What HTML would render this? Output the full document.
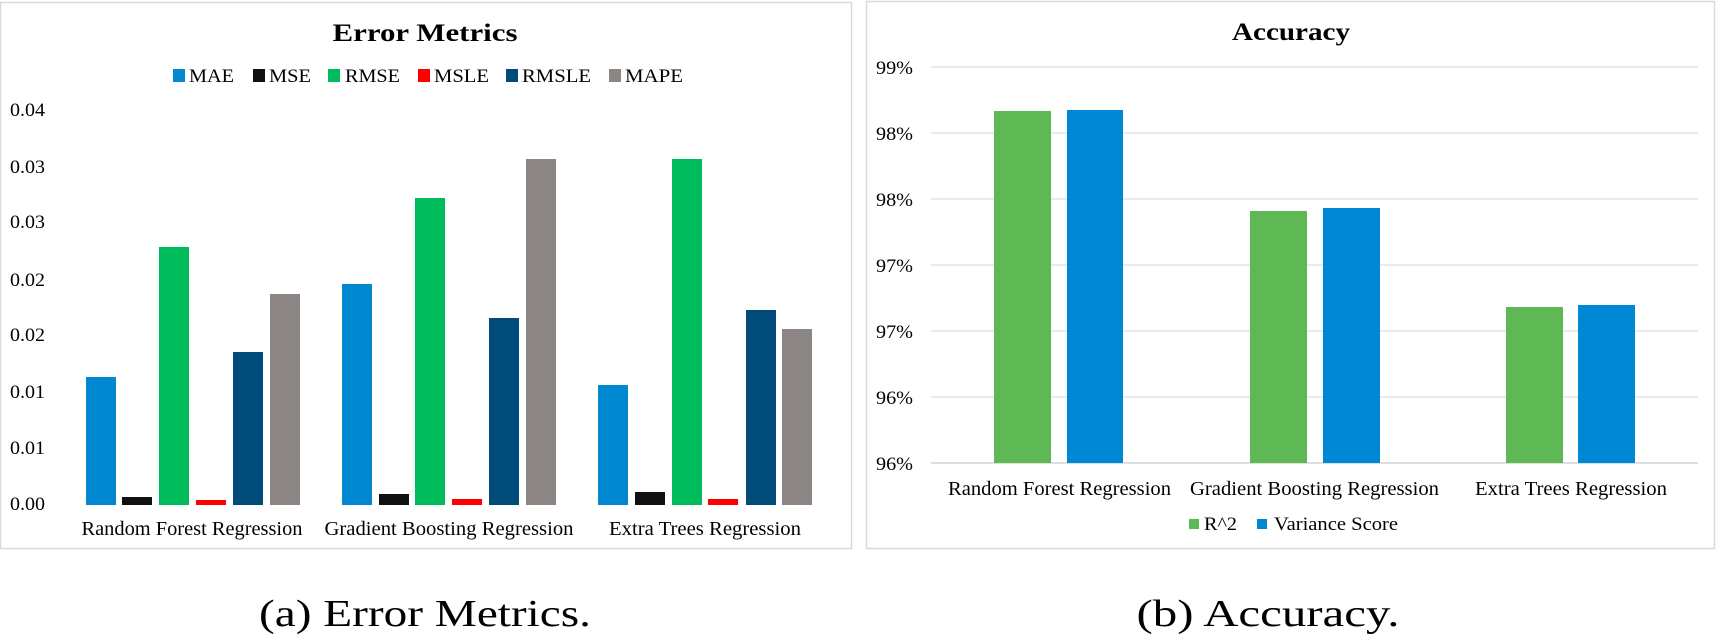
<!DOCTYPE html>
<html><head><meta charset="utf-8"><style>
html,body{margin:0;padding:0;background:#fff;}
svg{display:block;}
text{font-family:"Liberation Serif",serif;fill:#000;}
</style></head><body>
<svg width="1716" height="635" viewBox="0 0 1716 635" xmlns="http://www.w3.org/2000/svg">
<!-- Left panel -->
<rect x="0.5" y="2.5" width="851" height="546" fill="#fff" stroke="#d9d9d9" stroke-width="1.5"/>
<text x="425" y="41" font-size="25" font-weight="bold" text-anchor="middle" textLength="185" lengthAdjust="spacingAndGlyphs">Error Metrics</text>
<g font-size="19">
<rect x="173" y="69" width="12" height="13" fill="#0088d1"/><text x="189" y="82" textLength="45" lengthAdjust="spacingAndGlyphs">MAE</text>
<rect x="253" y="69" width="12" height="13" fill="#111"/><text x="269" y="82" textLength="42" lengthAdjust="spacingAndGlyphs">MSE</text>
<rect x="328" y="69" width="12" height="13" fill="#00bb5c"/><text x="345" y="82" textLength="55" lengthAdjust="spacingAndGlyphs">RMSE</text>
<rect x="418" y="69" width="12" height="13" fill="#ff0000"/><text x="434" y="82" textLength="55" lengthAdjust="spacingAndGlyphs">MSLE</text>
<rect x="506" y="69" width="12" height="13" fill="#004b7a"/><text x="522" y="82" textLength="69" lengthAdjust="spacingAndGlyphs">RMSLE</text>
<rect x="609" y="69" width="12" height="13" fill="#8b8584"/><text x="625" y="82" textLength="58" lengthAdjust="spacingAndGlyphs">MAPE</text>
</g>
<g font-size="19">
<text x="10" y="116" textLength="35" lengthAdjust="spacingAndGlyphs">0.04</text>
<text x="10" y="173" textLength="35" lengthAdjust="spacingAndGlyphs">0.03</text>
<text x="10" y="228" textLength="35" lengthAdjust="spacingAndGlyphs">0.03</text>
<text x="10" y="286" textLength="35" lengthAdjust="spacingAndGlyphs">0.02</text>
<text x="10" y="341" textLength="35" lengthAdjust="spacingAndGlyphs">0.02</text>
<text x="10" y="398" textLength="35" lengthAdjust="spacingAndGlyphs">0.01</text>
<text x="10" y="454" textLength="35" lengthAdjust="spacingAndGlyphs">0.01</text>
<text x="10" y="510" textLength="35" lengthAdjust="spacingAndGlyphs">0.00</text>
</g>
<g>
<rect x="86" y="377" width="30" height="128" fill="#0088d1"/>
<rect x="122" y="497" width="30" height="8" fill="#111"/>
<rect x="159" y="247" width="30" height="258" fill="#00bb5c"/>
<rect x="196" y="500" width="30" height="5" fill="#ff0000"/>
<rect x="233" y="352" width="30" height="153" fill="#004b7a"/>
<rect x="270" y="294" width="30" height="211" fill="#8b8584"/>

<rect x="342" y="284" width="30" height="221" fill="#0088d1"/>
<rect x="379" y="494" width="30" height="11" fill="#111"/>
<rect x="415" y="198" width="30" height="307" fill="#00bb5c"/>
<rect x="452" y="499" width="30" height="6" fill="#ff0000"/>
<rect x="489" y="318" width="30" height="187" fill="#004b7a"/>
<rect x="526" y="159" width="30" height="346" fill="#8b8584"/>

<rect x="598" y="385" width="30" height="120" fill="#0088d1"/>
<rect x="635" y="492" width="30" height="13" fill="#111"/>
<rect x="672" y="159" width="30" height="346" fill="#00bb5c"/>
<rect x="708" y="499" width="30" height="6" fill="#ff0000"/>
<rect x="746" y="310" width="30" height="195" fill="#004b7a"/>
<rect x="782" y="329" width="30" height="176" fill="#8b8584"/>
</g>
<g font-size="20" text-anchor="middle">
<text x="192" y="535" textLength="221" lengthAdjust="spacingAndGlyphs">Random Forest Regression</text>
<text x="449" y="535" textLength="249" lengthAdjust="spacingAndGlyphs">Gradient Boosting Regression</text>
<text x="705" y="535" textLength="192" lengthAdjust="spacingAndGlyphs">Extra Trees Regression</text>
</g>

<!-- Right panel -->
<rect x="866.5" y="1.5" width="848" height="547" fill="#fff" stroke="#d9d9d9" stroke-width="1.5"/>
<text x="1291" y="40" font-size="25" font-weight="bold" text-anchor="middle" textLength="118" lengthAdjust="spacingAndGlyphs">Accuracy</text>
<g stroke="#e3e3e3" stroke-width="1.5">
<line x1="931" y1="67" x2="1698" y2="67"/>
<line x1="931" y1="133" x2="1698" y2="133"/>
<line x1="931" y1="199" x2="1698" y2="199"/>
<line x1="931" y1="265" x2="1698" y2="265"/>
<line x1="931" y1="331" x2="1698" y2="331"/>
<line x1="931" y1="397" x2="1698" y2="397"/>
<line x1="931" y1="463" x2="1698" y2="463" stroke="#d4d4d4"/>
</g>
<g font-size="19">
<text x="876" y="74" textLength="37" lengthAdjust="spacingAndGlyphs">99%</text>
<text x="876" y="140" textLength="37" lengthAdjust="spacingAndGlyphs">98%</text>
<text x="876" y="206" textLength="37" lengthAdjust="spacingAndGlyphs">98%</text>
<text x="876" y="272" textLength="37" lengthAdjust="spacingAndGlyphs">97%</text>
<text x="876" y="338" textLength="37" lengthAdjust="spacingAndGlyphs">97%</text>
<text x="876" y="404" textLength="37" lengthAdjust="spacingAndGlyphs">96%</text>
<text x="876" y="470" textLength="37" lengthAdjust="spacingAndGlyphs">96%</text>
</g>
<g>
<rect x="994" y="111" width="57" height="352" fill="#5eb955"/>
<rect x="1067" y="110" width="56" height="353" fill="#0088d4"/>
<rect x="1250" y="211" width="57" height="252" fill="#5eb955"/>
<rect x="1323" y="208" width="57" height="255" fill="#0088d4"/>
<rect x="1506" y="307" width="57" height="156" fill="#5eb955"/>
<rect x="1578" y="305" width="57" height="158" fill="#0088d4"/>
</g>
<g font-size="20">
<text x="948" y="495" textLength="223" lengthAdjust="spacingAndGlyphs">Random Forest Regression</text>
<text x="1190" y="495" textLength="249" lengthAdjust="spacingAndGlyphs">Gradient Boosting Regression</text>
<text x="1475" y="495" textLength="192" lengthAdjust="spacingAndGlyphs">Extra Trees Regression</text>
</g>
<g font-size="19">
<rect x="1189" y="519" width="10" height="10" fill="#5eb955"/>
<text x="1204" y="530" textLength="33" lengthAdjust="spacingAndGlyphs">R^2</text>
<rect x="1257" y="519" width="10" height="10" fill="#0088d4"/>
<text x="1274" y="530" textLength="124" lengthAdjust="spacingAndGlyphs">Variance Score</text>
</g>

<!-- Captions -->
<text x="425" y="626" font-size="38" text-anchor="middle" textLength="332" lengthAdjust="spacingAndGlyphs">(a) Error Metrics.</text>
<text x="1268" y="626" font-size="38" text-anchor="middle" textLength="263" lengthAdjust="spacingAndGlyphs">(b) Accuracy.</text>
</svg>
</body></html>
